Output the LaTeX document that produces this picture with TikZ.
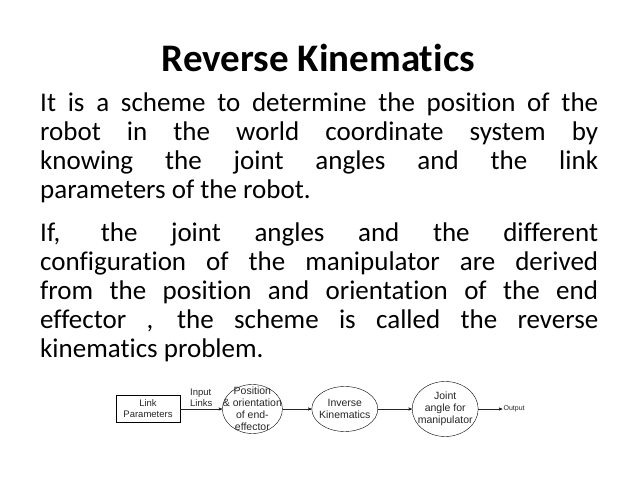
\documentclass[tikz,border=0pt]{standalone}
\usepackage{fontspec}
\setmainfont{Carlito}[Ligatures=NoCommon]
\newfontfamily\diagfont{Liberation Sans}
\usetikzlibrary{arrows,shapes.geometric,positioning}

\begin{document}
\begin{tikzpicture}[x=1pt,y=-1pt,>=stealth',thin]
\tikzstyle{bodyline}=[anchor=base west,inner sep=0pt,font=\fontsize{27}{29}\selectfont]
\tikzstyle{block}=[draw,thin,text=black!85,font=\diagfont\fontsize{10.5}{12}\selectfont,align=center]
\tikzstyle{bubble}=[block,ellipse,inner sep=-15pt]

\useasboundingbox (0,0) rectangle (638,478);

% heading and text
\node[anchor=base,inner sep=0pt,font=\bfseries\fontsize{39}{44}\selectfont] (title) at (318.5,72) {Reverse Kinematics};

\foreach \y/\txt [count=\i] in {
  112/{It is a scheme to determine the position of the},
  141/{robot in the world coordinate system by},
  170/{knowing the joint angles and the link},
  199/{parameters of the robot.\hfill},
  242/{If, the joint angles and the different},
  271/{configuration of the manipulator are derived},
  300/{from the position and orientation of the end},
  329/{effector , the scheme is called the reverse},
  358/{kinematics problem.\hfill}}
  \node[bodyline] (line\i) at (40,\y) {\makebox[558pt][s]{\txt}};

% block diagram
\node[block,rectangle,minimum width=64pt,minimum height=27pt,inner sep=1pt,font=\diagfont\fontsize{9.5}{11}\selectfont] (links) at (148,409) {Link\\Parameters};
\node[bubble,minimum width=60pt,minimum height=49pt] (pose) [right=42pt of links] {Position\\\& orientation\\of end-\\effector};
\node[bubble,minimum width=66pt,minimum height=45pt] (inverse) [right=29pt of pose] {Inverse\\Kinematics};
\node[bubble,minimum width=66pt,minimum height=55pt] (joint) [right=34pt of inverse] {Joint\\angle for\\manipulator};
\node[text=black!85,font=\diagfont\fontsize{7}{8}\selectfont,inner sep=1pt] (output) [right=24pt of joint] {Output};

\path[->,draw=black!85]
(links) edge node[above,align=left,text=black!85,font=\diagfont\fontsize{9.5}{11}\selectfont,inner sep=2pt] (inputlabel) {Input\\Links} (pose)
(pose) edge (inverse)
(inverse) edge (joint)
(joint) edge (output)
;
\end{tikzpicture}
\end{document}
